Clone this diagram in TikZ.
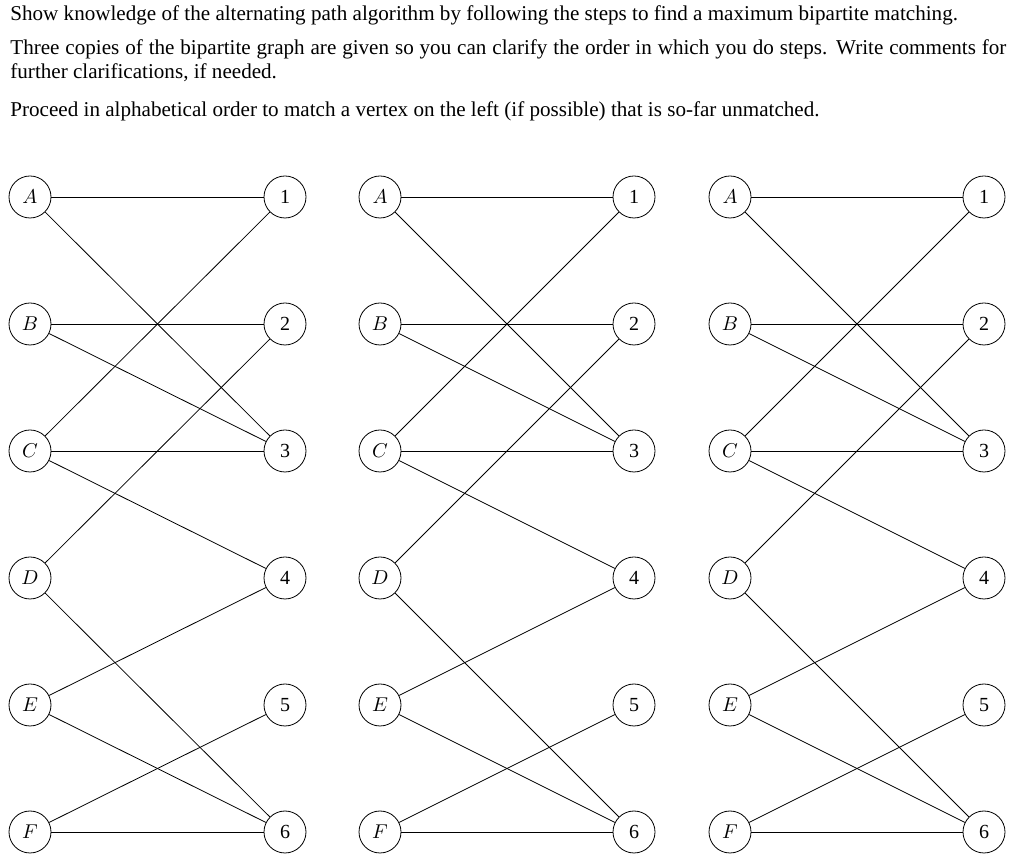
\documentclass[tikz,border=0pt]{standalone}
\usepackage{fontspec}
\setmainfont{Liberation Serif}
\tikzset{
  vtx/.style={draw, circle, minimum size=21pt, inner sep=0pt, font=\fontsize{10}{12}\selectfont},
  txt/.style={anchor=base west, inner sep=0pt, font=\fontsize{10.55}{11.7}\selectfont}
}
\begin{document}
\begin{tikzpicture}[x=0.5pt, y=-0.5pt]
		%%%%% START %%%%%
		\useasboundingbox (0, 0) rectangle (1024, 860);
		
		\node[txt] (line1) at (10, 21) {Show knowledge of the alternating path algorithm by following the steps to find a maximum bipartite matching.};
		\node[txt, text width=498pt, align=justify] (line2) at (10, 55) {Three copies of the bipartite graph are given so you can clarify the order in which you do steps. Write comments for further clarifications, if needed.};
		\node[txt] (line3) at (10, 117) {Proceed in alphabetical order to match a vertex on the left (if possible) that is so-far unmatched.};
		
		%%%%% GRAPH 1 %%%%%
		\node[vtx] (pA) at (30, 197) {$A$};
		\node[vtx] (pB) at (30, 324) {$B$};
		\node[vtx] (pC) at (30, 451) {$C$};
		\node[vtx] (pD) at (30, 578) {$D$};
		\node[vtx] (pE) at (30, 705) {$E$};
		\node[vtx] (pF) at (30, 832) {$F$};
		\node[vtx] (p1) at (285, 197) {1};
		\node[vtx] (p2) at (285, 324) {2};
		\node[vtx] (p3) at (285, 451) {3};
		\node[vtx] (p4) at (285, 578) {4};
		\node[vtx] (p5) at (285, 705) {5};
		\node[vtx] (p6) at (285, 832) {6};
		
		\draw (pA) -- (p1);
		\draw (pA) -- (p3);
		\draw (pB) -- (p2);
		\draw (pB) -- (p3);
		\draw (pC) -- (p1);
		\draw (pC) -- (p3);
		\draw (pC) -- (p4);
		\draw (pD) -- (p2);
		\draw (pD) -- (p6);
		\draw (pE) -- (p4);
		\draw (pE) -- (p6);
		\draw (pF) -- (p5);
		\draw (pF) -- (p6);
		
		%%%%% GRAPH 2 %%%%%
		\node[vtx] (qA) at (380, 197) {$A$};
		\node[vtx] (qB) at (380, 324) {$B$};
		\node[vtx] (qC) at (380, 451) {$C$};
		\node[vtx] (qD) at (380, 578) {$D$};
		\node[vtx] (qE) at (380, 705) {$E$};
		\node[vtx] (qF) at (380, 832) {$F$};
		\node[vtx] (q1) at (634, 197) {1};
		\node[vtx] (q2) at (634, 324) {2};
		\node[vtx] (q3) at (634, 451) {3};
		\node[vtx] (q4) at (634, 578) {4};
		\node[vtx] (q5) at (634, 705) {5};
		\node[vtx] (q6) at (634, 832) {6};
		
		\draw (qA) -- (q1);
		\draw (qA) -- (q3);
		\draw (qB) -- (q2);
		\draw (qB) -- (q3);
		\draw (qC) -- (q1);
		\draw (qC) -- (q3);
		\draw (qC) -- (q4);
		\draw (qD) -- (q2);
		\draw (qD) -- (q6);
		\draw (qE) -- (q4);
		\draw (qE) -- (q6);
		\draw (qF) -- (q5);
		\draw (qF) -- (q6);
		
		%%%%% GRAPH 3 %%%%%
		\node[vtx] (rA) at (730, 197) {$A$};
		\node[vtx] (rB) at (730, 324) {$B$};
		\node[vtx] (rC) at (730, 451) {$C$};
		\node[vtx] (rD) at (730, 578) {$D$};
		\node[vtx] (rE) at (730, 705) {$E$};
		\node[vtx] (rF) at (730, 832) {$F$};
		\node[vtx] (r1) at (984, 197) {1};
		\node[vtx] (r2) at (984, 324) {2};
		\node[vtx] (r3) at (984, 451) {3};
		\node[vtx] (r4) at (984, 578) {4};
		\node[vtx] (r5) at (984, 705) {5};
		\node[vtx] (r6) at (984, 832) {6};
		
		\draw (rA) -- (r1);
		\draw (rA) -- (r3);
		\draw (rB) -- (r2);
		\draw (rB) -- (r3);
		\draw (rC) -- (r1);
		\draw (rC) -- (r3);
		\draw (rC) -- (r4);
		\draw (rD) -- (r2);
		\draw (rD) -- (r6);
		\draw (rE) -- (r4);
		\draw (rE) -- (r6);
		\draw (rF) -- (r5);
		\draw (rF) -- (r6);
		
		%%%%% END %%%%%
\end{tikzpicture}
\end{document}
